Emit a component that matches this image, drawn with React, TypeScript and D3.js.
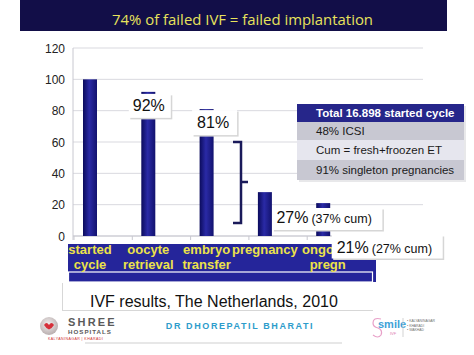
import React from "react";
import * as d3 from "d3";

const categoriesLine1 = ["started", "oocyte", "embryo", "pregnancy", "ongoing"];
const categoriesLine2 = ["cycle", "retrieval", "transfer", "", "pregn"];
const values = [100, 92, 81, 28, 21];
const yTicks = [0, 20, 40, 60, 80, 100, 120];
const pctLabels = ["", "92%", "81%", "27%", "21%"];
const cumLabels = ["", "", "", "(37% cum)", "(27% cum)"];
const tableRows = [
  "Total 16.898 started cycle",
  "48% ICSI",
  "Cum = fresh+froozen ET",
  "91% singleton pregnancies",
];
const title = "74% of failed IVF = failed implantation";
const subtitle = "IVF results, The Netherlands, 2010";

const W = 474;
const H = 355;
const FONT = "'Liberation Sans', Arial, sans-serif";

export default function App() {
  const y = d3.scaleLinear().domain([0, 120]).range([236, 48]);
  const x = d3
    .scaleBand<string>()
    .domain(categoriesLine1)
    .range([74, 365.5])
    .paddingInner(0)
    .paddingOuter(0);
  const barW = 14;
  const barOff = 9;
  const gridRight = 423;
  const bw = x.bandwidth();
  const cx = (i: number) => (x(categoriesLine1[i]) as number) + barOff + barW / 2;

  // annotation boxes (layout relative to bars)
  const boxes = [
    null,
    { x0: cx(1) - 19.5, y0: y(values[1]) + 2, w: 42, h: 24, tx: 4, ty: 17 },
    { x0: cx(2) - 14.5, y0: y(values[2]) + 1, w: 45, h: 25, tx: 5, ty: 17.5 },
    { x0: cx(3) + 7.5, y0: 208, w: 110, h: 22, tx: 4, ty: 15 },
    { x0: cx(4) + 8.5, y0: 235, w: 111, h: 23.5, tx: 5, ty: 17.5 },
  ];

  const tableX = 297;
  const tableW = 167;
  const rowTops = [104, 122, 140, 160, 180];
  const rowFills = ["#26268a", "#c8c8d2", "#e6e6ee", "#c8c8d2"];

  return (
    <svg
      width={W}
      height={H}
      style={{ position: "absolute", left: 0, top: 0, background: "#fff" }}
      fontFamily={FONT}
    >
      <defs>
        <linearGradient id="barGrad" x1="0" x2="1" y1="0" y2="0">
          <stop offset="0" stopColor="#0b0b5c" />
          <stop offset="0.45" stopColor="#2a2aa6" />
          <stop offset="1" stopColor="#12126e" />
        </linearGradient>
        <radialGradient id="logoGrad" cx="0.45" cy="0.4" r="0.6">
          <stop offset="0" stopColor="#f4f0f0" />
          <stop offset="1" stopColor="#b9aeae" />
        </radialGradient>
        <clipPath id="ongoClip">
          <rect x={290} y={240} width={42} height={18} />
        </clipPath>
      </defs>

      {/* Title bar */}
      <rect x={20} y={0} width={427} height={31} fill="#120e48" />
      <text
        x={242.5}
        y={25}
        textAnchor="middle"
        fill="#e8e35c"
        fontFamily="'Open Sans', 'Noto Sans', sans-serif"
        fontSize={14}
        textLength={261}
        lengthAdjust="spacingAndGlyphs"
      >
        {title}
      </text>

      {/* Grid lines */}
      {yTicks.map((t) => (
        <line
          key={"g" + t}
          x1={73}
          x2={gridRight}
          y1={y(t)}
          y2={y(t)}
          stroke="#d9d9df"
          strokeWidth={1}
        />
      ))}
      <line x1={73} x2={73} y1={y(120)} y2={y(0) + 4} stroke="#c8c8d0" />
      <line x1={73} x2={gridRight} y1={y(0)} y2={y(0)} stroke="#c8c8d0" />
      {d3.range(categoriesLine1.length + 1).map((i) => (
        <line
          key={"tk" + i}
          x1={74 + i * bw}
          x2={74 + i * bw}
          y1={y(0)}
          y2={y(0) + 4}
          stroke="#c8c8d0"
        />
      ))}
      {yTicks.map((t) => (
        <text
          key={"yl" + t}
          x={65}
          y={y(t) + 4.5}
          textAnchor="end"
          fontSize={12}
          fill="#222"
        >
          {t}
        </text>
      ))}

      {/* Bars */}
      {values.map((v, i) => (
        <rect
          key={"b" + i}
          x={(x(categoriesLine1[i]) as number) + barOff}
          y={y(v)}
          width={barW}
          height={y(0) - y(v)}
          fill="url(#barGrad)"
        />
      ))}

      {/* Bracket */}
      <path
        d="M233,142 H241 V223 H233 M241,182 H248"
        fill="none"
        stroke="#1a1a5a"
        strokeWidth={2.5}
      />

      {/* Table */}
      <rect x={tableX + 2} y={rowTops[0] + 2} width={tableW} height={rowTops[4] - rowTops[0]} fill="#e8e8ea" />
      {tableRows.map((r, i) => (
        <g key={"tr" + i}>
          <rect
            x={tableX}
            y={rowTops[i]}
            width={tableW}
            height={rowTops[i + 1] - rowTops[i]}
            fill={rowFills[i]}
          />
          <text
            x={316}
            y={rowTops[i] + (rowTops[i + 1] - rowTops[i]) / 2 + 4}
            fontSize={11.5}
            fontWeight={i === 0 ? "bold" : "normal"}
            fill={i === 0 ? "#ffffff" : "#1a1a1a"}
          >
            {r}
          </text>
        </g>
      ))}

      {/* Category label band */}
      <rect x={68} y={244} width={308} height={38} fill="#25259a" />
      <rect x={68.5} y={272} width={304} height={10} fill="none" stroke="#ffffff" strokeWidth={1.2} />
      {categoriesLine1.map((c, i) => (
        <g key={"cl" + i}>
          <text
            x={cx(i) + (i === 4 ? 4.5 : 0)}
            y={254}
            textAnchor="middle"
            fontSize={13}
            fontWeight="bold"
            fill="#ece24a"
            clipPath={i === 4 ? "url(#ongoClip)" : undefined}
          >
            {c}
          </text>
          <text
            x={cx(i) + (i === 4 ? 4.5 : 0)}
            y={268.5}
            textAnchor="middle"
            fontSize={13}
            fontWeight="bold"
            fill="#ece24a"
          >
            {categoriesLine2[i]}
          </text>
        </g>
      ))}

      {/* Subtitle box */}
      <rect x={62} y={283} width={311} height={28} fill="#bdbdbd" opacity={0.6} />
      <rect x={63} y={282} width={310} height={28} fill="#ffffff" />
      <text x={90} y={307} fontSize={16} fill="#111">
        {subtitle}
      </text>

      {/* Percentage annotation boxes */}
      {boxes.map((b, i) =>
        b ? (
          <g key={"box" + i}>
            <rect x={b.x0 + 1.5} y={b.y0 + 1.5} width={b.w} height={b.h} fill="#d6d6d6" />
            <rect x={b.x0} y={b.y0} width={b.w} height={b.h} fill="#ffffff" />
            <text x={b.x0 + b.tx} y={b.y0 + b.ty} fill="#111">
              <tspan fontSize={16}>{pctLabels[i]}</tspan>
              {cumLabels[i] ? (
                <tspan fontSize={12.5} dx={3}>
                  {cumLabels[i]}
                </tspan>
              ) : null}
            </text>
          </g>
        ) : null
      )}

      {/* Footer: left logo */}
      <circle cx={49} cy={326} r={9} fill="url(#logoGrad)" />
      <path
        d="M44,325 q2.5,-4 5,0 q2.5,-4 5,0 q-2.5,4 -5,4.5 q-2.5,-0.5 -5,-4.5 Z"
        fill="#d6303a"
      />
      <text x={68} y={326} fontSize={11} fontWeight="bold" fill="#5a5a5a" letterSpacing={2.2}>
        SHREE
      </text>
      <text x={68} y={334} fontSize={6.2} fontWeight="bold" fill="#5a5a5a" letterSpacing={1}>
        HOSPITALS
      </text>
      <text x={48} y={340} fontSize={3.6} fill="#d03030" letterSpacing={0.4}>
        KALYANINAGAR | KHARADI
      </text>

      {/* Footer center */}
      <text
        x={240}
        y={328.5}
        textAnchor="middle"
        fontSize={9}
        fontWeight="bold"
        fill="#2d9ccb"
        letterSpacing={1.6}
      >
        DR DHOREPATIL BHARATI
      </text>
      <line x1={85} x2={342} y1={343} y2={343} stroke="#cfcfcf" strokeWidth={1.2} />

      {/* Footer right logo */}
      <path
        d="M381,319 q-8,-2 -8,4 q0,4 5,5 q5,2 3,7 q-3,4 -8,0"
        fill="none"
        stroke="#e8a0c8"
        strokeWidth={1.2}
      />
      <text x={378} y={328} fontSize={11} fill="#3ea2d8" fontWeight="bold">
        smile
      </text>
      <text x={390} y={335} fontSize={4} fill="#e080b0">
        IVF
      </text>
      <line x1={403} x2={403} y1={318} y2={337} stroke="#c8c8c8" strokeWidth={0.8} />
      {["• KALYANINAGAR", "• KHARADI", "• WAKHAD"].map((t, i) => (
        <text key={"fl" + i} x={407} y={322 + i * 4.5} fontSize={3.4} fill="#707070">
          {t}
        </text>
      ))}
    </svg>
  );
}
